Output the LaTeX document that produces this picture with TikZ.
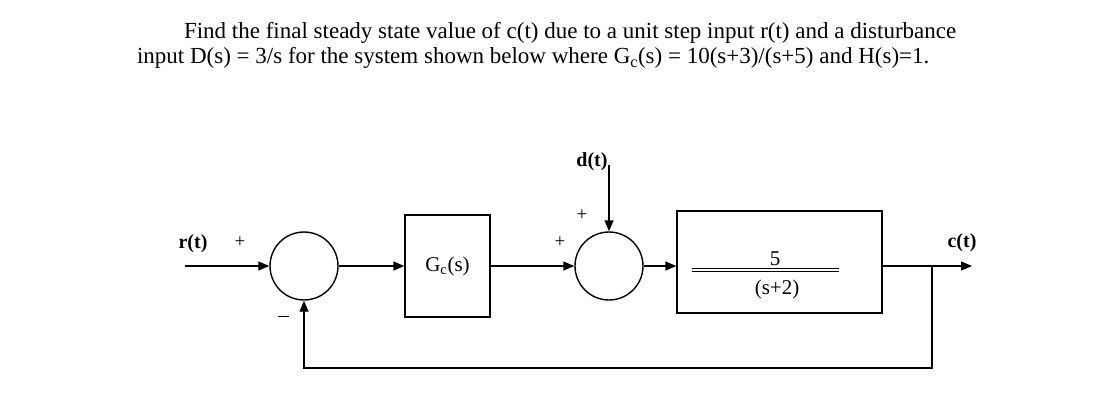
\documentclass[tikz,border=0pt]{standalone}
\usepackage{fontspec}
\setmainfont{Liberation Serif}
\usetikzlibrary{arrows.meta}
\begin{document}
\begin{tikzpicture}[x=1pt,y=-1pt,
  line width=1.4pt,
  arr/.style={-{Triangle[length=11pt,width=9pt]}},
  sumnode/.style={circle,draw,minimum size=68pt,inner sep=0pt},
  blk/.style={draw,inner sep=0pt},
  lbl/.style={font=\fontsize{20}{22}\selectfont\bfseries},
  sgn/.style={font=\fontsize{19}{22}\selectfont}]
\useasboundingbox (0,0) rectangle (1102,407);
\node[anchor=west,font=\fontsize{23}{26}\selectfont] (t1) at (180,33) {Find the final steady state value of c(t) due to a unit step input r(t) and a disturbance};
\node[anchor=west,font=\fontsize{23}{26}\selectfont] (t2) at (133,58) {input D(s) = 3/s for the system shown below where G\textsubscript{c}(s) = 10(s+3)/(s+5) and H(s)=1.};
\node[sumnode] (s1) at (304,266) {};
\node[sumnode] (s2) at (609,266) {};
\node[blk,minimum width=85pt,minimum height=102pt,font=\fontsize{21}{24}\selectfont] (gc) at (447.5,266) {G\textsubscript{c}(s)};
\node[blk,minimum width=205pt,minimum height=102pt] (pl) at (779.5,262) {};
\node[font=\fontsize{21}{24}\selectfont] (num) at (775,259) {5};
\node[font=\fontsize{21}{24}\selectfont] (den) at (777,289) {(s+2)};
\coordinate (fl) at (692,268); \coordinate (fr) at (839,268);
\coordinate (fl2) at (692,271.5); \coordinate (fr2) at (839,271.5);
\draw[line width=0.8pt] (fl) -- (fr);
\draw[line width=0.8pt] (fl2) -- (fr2);
\node[lbl] (r) at (193,244) {r(t)};
\node[lbl] (d) at (592,162) {d(t)};
\node[lbl] (c) at (962,243) {c(t)};
\node[sgn] (p1) at (240,242) {+};
\node[sgn] (p2) at (560,242) {+};
\node[sgn] (p3) at (582,215) {+};
\node[sgn] (m1) at (283,318) {\rule[0.3ex]{11pt}{1.2pt}};
\coordinate (in) at (185,266);
\coordinate (dtop) at (609,165);
\coordinate (out) at (972,266);
\coordinate (br) at (932,266);
\coordinate (bb) at (932,368);
\coordinate (lb) at (304,368);
\draw[arr] (in) -- (s1.west);
\draw[arr] (s1.east) -- (gc.west);
\draw[arr] (gc.east) -- (s2.west);
\draw[arr] (dtop) -- (s2.north);
\draw[arr] (s2.east) -- (pl.west |- s2.east);
\draw[arr] (pl.east |- br) -- (out);
\draw[arr] (br) -- (bb) -- (lb) -- (s1.south);
\end{tikzpicture}
\end{document}
